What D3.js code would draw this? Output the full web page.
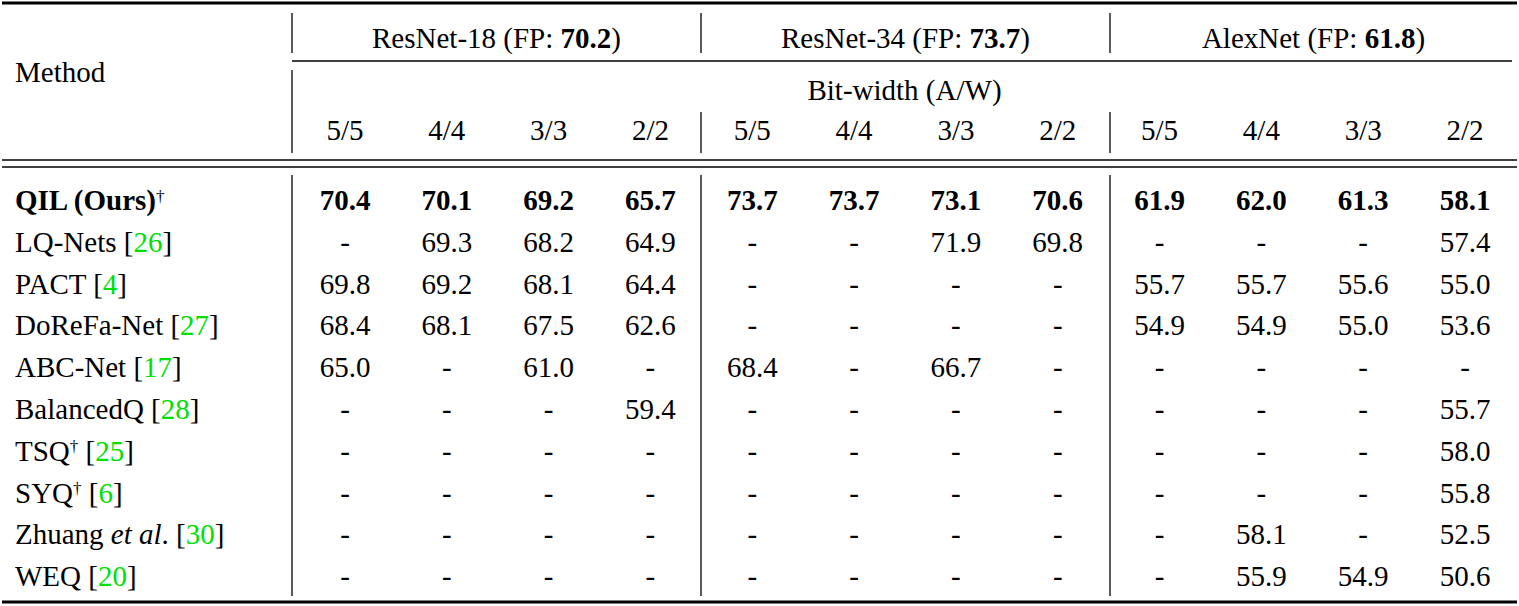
<!DOCTYPE html>
<html><head><meta charset="utf-8">
<script src="https://cdn.jsdelivr.net/npm/d3@7"></script>
<style>body{margin:0;background:#fff}svg text{font-family:'Liberation Serif','Times New Roman',Times,'DejaVu Serif',serif;font-size:29px;fill:#000}</style>
</head><body><div id="chart"></div>
<script>
const groups = [["ResNet-18", "70.2"], ["ResNet-34", "73.7"], ["AlexNet", "61.8"]];
const bits = ["5/5", "4/4", "3/3", "2/2"];
// method name parts: [text, style] style: n normal, b bold, i italic, d dagger, r ref
const methods = [
  [["QIL (Ours)", "b"], ["†", "d"]],
  [["LQ-Nets [", "n"], ["26", "r"], ["]", "n"]],
  [["PACT [", "n"], ["4", "r"], ["]", "n"]],
  [["DoReFa-Net [", "n"], ["27", "r"], ["]", "n"]],
  [["ABC-Net [", "n"], ["17", "r"], ["]", "n"]],
  [["BalancedQ [", "n"], ["28", "r"], ["]", "n"]],
  [["TSQ", "n"], ["†", "d"], [" [", "n"], ["25", "r"], ["]", "n"]],
  [["SYQ", "n"], ["†", "d"], [" [", "n"], ["6", "r"], ["]", "n"]],
  [["Zhuang ", "n"], ["et al", "i"], [". [", "n"], ["30", "r"], ["]", "n"]],
  [["WEQ [", "n"], ["20", "r"], ["]", "n"]]
];
const values = [
  ["70.4","70.1","69.2","65.7","73.7","73.7","73.1","70.6","61.9","62.0","61.3","58.1"],
  ["-","69.3","68.2","64.9","-","-","71.9","69.8","-","-","-","57.4"],
  ["69.8","69.2","68.1","64.4","-","-","-","-","55.7","55.7","55.6","55.0"],
  ["68.4","68.1","67.5","62.6","-","-","-","-","54.9","54.9","55.0","53.6"],
  ["65.0","-","61.0","-","68.4","-","66.7","-","-","-","-","-"],
  ["-","-","-","59.4","-","-","-","-","-","-","-","55.7"],
  ["-","-","-","-","-","-","-","-","-","-","-","58.0"],
  ["-","-","-","-","-","-","-","-","-","-","-","55.8"],
  ["-","-","-","-","-","-","-","-","-","58.1","-","52.5"],
  ["-","-","-","-","-","-","-","-","-","55.9","54.9","50.6"]
];

const W = 1519, H = 606;
const svg = d3.select("#chart").append("svg").attr("width", W).attr("height", H);

const colCenters = [345, 452, 556, 655, 752, 855, 957, 1057, 1160, 1265, 1363, 1465];
const x = d3.scalePoint().domain(d3.range(12)).range([colCenters[0], colCenters[11]]);
const groupX = [292, 701, 1110, 1517];
const y = d3.scaleLinear().domain([0, methods.length - 1]).range([200, 576]);

const line = (x1, y1, x2, y2, w) => svg.append("line").attr("x1", x1).attr("y1", y1)
  .attr("x2", x2).attr("y2", y2).attr("stroke", "#000").attr("stroke-width", w);

// rules
line(2, 3, 1517, 3, 3);
line(292, 61, 1512, 61, 1.5);
line(2, 160, 1517, 160, 1.3);
line(2, 167, 1517, 167, 1.3);
line(2, 602, 1517, 602, 3);
[292, 701, 1110].forEach((vx, i) => {
  line(vx, 13, vx, 53, 1.3);
  if (i === 0) line(vx, 70, vx, 153, 1.3);
  else line(vx, 112, vx, 153, 1.3);
  line(vx, 175, vx, 596, 1.3);
});

// header
svg.append("text").attr("x", 15).attr("y", 72).attr("dy", "0.35em").text("Method");
groups.forEach((g, i) => {
  const t = svg.append("text").attr("x", (groupX[i] + groupX[i + 1]) / 2).attr("y", 38)
    .attr("dy", "0.35em").attr("text-anchor", "middle");
  t.append("tspan").text(g[0] + " (FP: ");
  t.append("tspan").attr("font-weight", "bold").text(g[1]);
  t.append("tspan").text(")");
});
svg.append("text").attr("x", (292 + 1517) / 2).attr("y", 90).attr("dy", "0.35em")
  .attr("text-anchor", "middle").text("Bit-width (A/W)");
svg.selectAll("text.bit").data(d3.range(12)).join("text").attr("class", "bit")
  .attr("x", d => x(d)).attr("y", 130).attr("dy", "0.35em").attr("text-anchor", "middle")
  .text(d => bits[d % 4]);

// method names
methods.forEach((parts, r) => {
  const t = svg.append("text").attr("x", 15).attr("y", y(r)).attr("dy", "0.35em");
  parts.forEach(([s, st]) => {
    const sp = t.append("tspan").text(s);
    if (st === "b") sp.attr("font-weight", "bold");
    if (st === "i") sp.attr("font-style", "italic");
    if (st === "r") sp.style("fill", "#00e000");
    if (st === "d") sp.style("font-size", "17px").attr("dy", "-0.5em");
  });
  // restore baseline after dagger
  t.selectAll("tspan").each(function (d, k, arr) {
    if (k > 0 && parts[k - 1][1] === "d") d3.select(this).attr("dy", "0.3em");
  });
});

// values
values.forEach((row, r) => {
  svg.append("g").selectAll("text").data(row).join("text")
    .attr("x", (d, i) => x(i)).attr("y", y(r)).attr("dy", "0.35em")
    .attr("text-anchor", "middle").attr("font-weight", r === 0 ? "bold" : null)
    .text(d => d);
});
</script></body></html>
